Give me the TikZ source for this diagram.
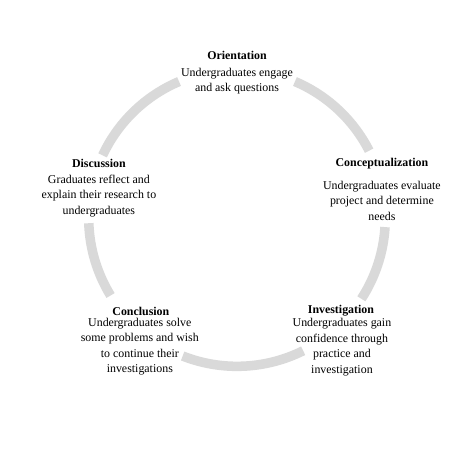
\documentclass[tikz,border=0pt]{standalone}
\usepackage{fontspec}
\setmainfont{Liberation Serif}
\tikzset{
  ring/.style={line width=8pt,black!15},
  ttl/.style={font=\bfseries,inner sep=1.5pt,align=center},
  txt/.style={font=\fontsize{10}{13}\selectfont,inner sep=1.5pt,align=center},
}
\begin{document}
\begin{tikzpicture}[scale=1.0]
  \useasboundingbox (-7.0,-7.56) rectangle (7.0,6.44);
  % ring pieces between the stages
  \foreach \a/\b in {27/67, -33/-3.5, -111.5/-63.5, 182/211.5, 113/155}{
    \draw[ring] (\a:4.38) arc[start angle=\a, end angle=\b, radius=4.38];
  }
  % ---- stages ----
  \node[ttl] (orient) at (0,4.81) {Orientation};
  \node[txt] (orientB) at (0,4.05) {Undergraduates engage\\and ask questions};
  \node[ttl] (concept) at (4.28,1.60) {Conceptualization};
  \node[txt] (conceptB) at (4.28,0.51) {Undergraduates evaluate\\project and determine\\needs};
  \node[ttl] (invest) at (3.07,-2.75) {Investigation};
  \node[txt] (investB) at (3.10,-3.81) {Undergraduates gain\\confidence through\\practice and\\investigation};
  \node[ttl] (concl) at (-2.84,-2.75) {Conclusion};
  \node[txt] (conclB) at (-2.87,-3.80) {Undergraduates solve\\some problems and wish\\to continue their\\investigations};
  \node[ttl] (discuss) at (-4.08,1.60) {Discussion};
  \node[txt] (discussB) at (-4.08,0.65) {Graduates reflect and\\explain their research to\\undergraduates};
\end{tikzpicture}
\end{document}
